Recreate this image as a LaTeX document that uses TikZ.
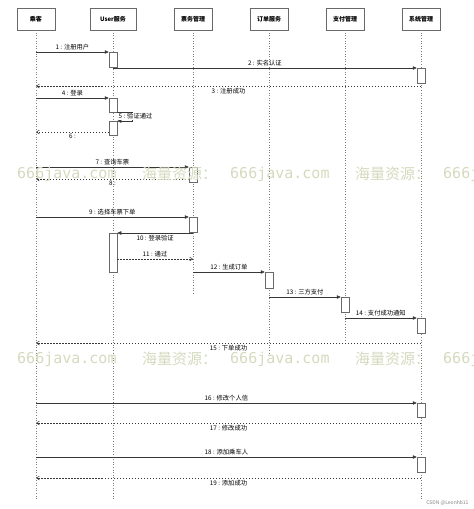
\documentclass[tikz,border=0pt]{standalone}
\usepackage{fontspec}
\setmainfont{Noto Sans CJK SC}
\newfontfamily\markfont{DejaVu Sans Mono}
\usetikzlibrary{arrows.meta,shadows,calc}
\definecolor{line-gray}{RGB}{55,55,55}
\definecolor{box-gray}{RGB}{105,105,105}
\definecolor{mark-green}{RGB}{212,218,190}
\tikzstyle{head}=[draw=box-gray, fill=white, minimum width=38pt, minimum height=22pt, inner sep=2pt, font=\fontsize{6}{7}\selectfont\bfseries, drop shadow={shadow xshift=1pt, shadow yshift=-1pt, opacity=0.25}]
\tikzstyle{lifeline}=[draw=gray, dotted, line width=0.6pt]
\tikzstyle{actbox}=[draw=box-gray, fill=white, minimum width=8pt, inner sep=0pt, line width=0.5pt]
\tikzstyle{msg}=[draw=line-gray, line width=0.5pt, -{Triangle[length=4pt,width=3.5pt]}]
\tikzstyle{ret}=[draw=line-gray, line width=0.5pt, dash pattern=on 1.5pt off 1.5pt, -{Straight Barb[length=3pt,width=4pt]}]
\tikzstyle{lbl}=[font=\fontsize{6.3}{7}\selectfont, inner sep=1.8pt, text=black]
\tikzstyle{wmtext}=[font=\fontsize{15}{15}\selectfont, text=mark-green, inner sep=0pt]
\newcommand{\actbox}[4]{
	\node[actbox, minimum height=#4pt, anchor=north] (#1) at (#2,#3) {};
}

\begin{document}
\begin{tikzpicture}[x=1pt,y=-1pt]
	\useasboundingbox (0,0) rectangle (474,509);
	\node[head] (pass) at (36,19) {乘客};
	\node[head, minimum width=46pt] (user) at (113,19) {User服务};
	\node[head] (ticket) at (193,19) {票务管理};
	\node[head] (order) at (269,19) {订单服务};
	\node[head] (pay) at (345,19) {支付管理};
	\node[head] (sys) at (421,19) {系统管理};
	\coordinate (endA) at (0,499);
	\coordinate (endT) at (0,295);
	\coordinate (endO) at (0,357);
	\coordinate (endP) at (0,340);
	\draw[lifeline] (pass) -- (pass |- endA);
	\draw[lifeline] (user) -- (user |- endA);
	\draw[lifeline] (ticket) -- (ticket |- endT);
	\draw[lifeline] (order) -- (order |- endO);
	\draw[lifeline] (pay) -- (pay |- endP);
	\draw[lifeline] (sys) -- (sys |- endA);
	\actbox{a1}{113}{52}{15}
	\draw[msg] (pass |- a1.north) -- (a1.north west) node[lbl, midway, above] {1 : 注册用户};
	\actbox{s1}{421}{68}{15}
	\draw[msg] (user |- s1.north) -- (s1.north west) node[lbl, midway, above] {2 : 实名认证};
	\coordinate (m3) at (421,86);
	\draw[ret] (m3) -- (m3 -| pass) node[lbl, midway, below] {3 : 注册成功};
	\actbox{a2}{113}{98}{14}
	\draw[msg] (pass |- a2.north) -- (a2.north west) node[lbl, midway, above] {4 : 登录};
	\actbox{a3}{113}{121}{14}
	\draw[msg] (a2.south east) -- ++(15,0) |- (a3.north east);
	\node[lbl, fill=white, inner sep=0.5pt, anchor=west] (l5) at (118,116.5) {5 : 验证通过};
	\coordinate (m6) at (109,132);
	\draw[ret] (m6) -- (m6 -| pass) node[lbl, midway, below] {6 :};
	\actbox{t1}{193}{167}{15}
	\draw[msg] (pass |- t1.north) -- (t1.north west) node[lbl, midway, above] {7 : 查询车票};
	\coordinate (m8) at (189,179);
	\draw[ret] (m8) -- (m8 -| pass) node[lbl, midway, below] {8 :};
	\actbox{t2}{193}{217}{15}
	\draw[msg] (pass |- t2.north) -- (t2.north west) node[lbl, midway, above] {9 : 选择车票下单};
	\actbox{a4}{113}{233}{39}
	\coordinate (m10) at (193,233);
	\draw[msg] (m10) -- (a4.north east) node[lbl, midway, below] {10 : 登录验证};
	\coordinate (m11) at (117,259);
	\draw[ret] (m11) -- (m11 -| ticket) node[lbl, midway, above] {11 : 通过};
	\actbox{o1}{269}{272}{16}
	\draw[msg] (ticket |- o1.north) -- (o1.north west) node[lbl, midway, above] {12 : 生成订单};
	\actbox{p1}{345}{297}{15}
	\draw[msg] (order |- p1.north) -- (p1.north west) node[lbl, midway, above] {13 : 三方支付};
	\actbox{s2}{421}{318}{15}
	\draw[msg] (pay |- s2.north) -- (s2.north west) node[lbl, midway, above] {14 : 支付成功通知};
	\coordinate (m15) at (421,343);
	\draw[ret] (m15) -- (m15 -| pass) node[lbl, midway, below] {15 : 下单成功};
	\actbox{s3}{421}{403}{14}
	\draw[msg] (pass |- s3.north) -- (s3.north west) node[lbl, midway, above] {16 : 修改个人信};
	\coordinate (m17) at (421,423);
	\draw[ret] (m17) -- (m17 -| pass) node[lbl, midway, below] {17 : 修改成功};
	\actbox{s4}{421}{457}{15}
	\draw[msg] (pass |- s4.north) -- (s4.north west) node[lbl, midway, above] {18 : 添加乘车人};
	\coordinate (m19) at (421,478);
	\draw[ret] (m19) -- (m19 -| pass) node[lbl, midway, below] {19 : 添加成功};
	\foreach \wy in {174,359} {
		\foreach \wx in {-196,17,230,443} {
			\node[wmtext, anchor=west] at (\wx,\wy) {\markfont 666java.com};
			\node[wmtext, anchor=west] at (\wx+125,\wy) {海量资源：};
		}
	}
	\node[font=\fontsize{5}{6}\selectfont, text=gray, anchor=east] (csdn) at (472,503) {CSDN @Leonhb11};
\end{tikzpicture}
\end{document}
